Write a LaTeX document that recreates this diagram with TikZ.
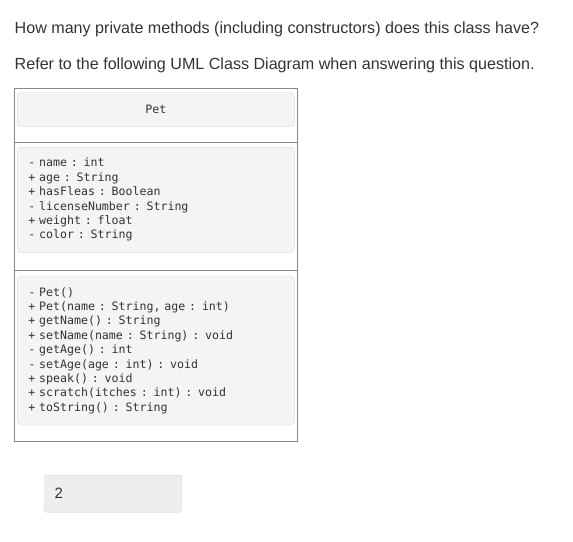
\documentclass[tikz,border=0pt]{standalone}
\usepackage{fontspec}
\setmainfont{Liberation Sans}
\setmonofont{DejaVu Sans Mono}
\usetikzlibrary{positioning}
\definecolor{inktext}{HTML}{333333}
\definecolor{boxgrey}{HTML}{F4F4F4}
\definecolor{boxline}{HTML}{DADADA}
\definecolor{outline}{HTML}{888888}
\definecolor{answerfill}{HTML}{EEEEEE}
\definecolor{answerline}{HTML}{CCCCCC}
\tikzset{
    question/.style = {
                        anchor=base west, inner sep=0pt, text=inktext,
                        font=\fontsize{16.1}{19}\selectfont
                    },
    classbox/.style = {rectangle, draw=outline, line width=0.8pt, inner sep=0pt},
    compartment/.style = {
                        rectangle, rounded corners=4pt, draw=boxline, fill=boxgrey,
                        minimum width=277pt, inner ysep=0pt, inner xsep=11pt,
                        text width=255pt, align=left, text=inktext,
                        font=\ttfamily\fontsize{11.6}{14.4}\selectfont
                    },
    answer/.style = {
                        rectangle, rounded corners=2pt, draw=answerline, fill=answerfill,
                        minimum width=137pt, minimum height=37pt, inner xsep=10pt,
                        text width=117pt, align=left, text=inktext,
                        font=\fontsize{15}{18}\selectfont
                    }
}
\begin{document}
\begin{tikzpicture}[x=1pt, y=-1pt]
    \useasboundingbox (0,0) rectangle (573,541);

    \node (q_one)   [question] at (14.5,33.3) {How many private methods (including constructors) does this class have?};
    \node (q_two)   [question] at (14.5,69.3) {Refer to the following UML Class Diagram when answering this question.};

    \node (pet_class)   [classbox, minimum width=283pt, minimum height=353.5pt] at (155.8,265.05) {};

    \node (pet_name)    [compartment, align=center, minimum height=34.5pt] at (155.8,109.5) {Pet};
    \node (pet_attrs)   [compartment, minimum height=105pt] at (155.8,199.8)
        {- name : int\\
         + age : String\\
         + hasFleas : Boolean\\
         - licenseNumber : String\\
         + weight : float\\
         - color : String};
    \node (pet_methods) [compartment, minimum height=149pt] at (155.8,350.5)
        {- Pet()\\
         + Pet(name : String, age : int)\\
         + getName() : String\\
         + setName(name : String) : void\\
         - getAge() : int\\
         - setAge(age : int) : void\\
         + speak() : void\\
         + scratch(itches : int) : void\\
         + toString() : String};

    \draw[outline, line width=0.8pt] (pet_class.west |- 0,142.3) -- (pet_class.east |- 0,142.3);
    \draw[outline, line width=0.8pt] (pet_class.west |- 0,270.2) -- (pet_class.east |- 0,270.2);

    \node (reply) [answer] at (113.2,493.7) {2};
\end{tikzpicture}
\end{document}
